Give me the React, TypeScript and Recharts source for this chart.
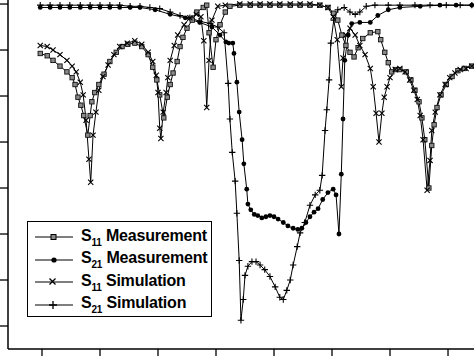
import React from 'react';
import { LineChart, Line, XAxis, YAxis, Legend } from 'recharts';

// frequency ticks (GHz) and dB ticks
const freqTicks = [1, 2, 3, 4, 5, 6, 7, 8];
const dbTicks = [-30, -28, -26, -24, -22, -20, -18, -16, -14, -12, -10, -8, -6, -4, -2, 0];

const s11MeasFreq = [0.97, 1.09, 1.19, 1.31, 1.43, 1.52, 1.57, 1.62, 1.67, 1.72, 1.79, 1.83, 1.86, 1.91, 1.98, 2.07, 2.17, 2.28, 2.38, 2.48, 2.6, 2.72, 2.83, 2.91, 2.98, 3.03, 3.1, 3.16, 3.21, 3.26, 3.33, 3.38, 3.43, 3.5, 3.59, 3.67, 3.78, 3.84, 3.88, 3.95, 4.0, 4.07, 4.16, 4.24, 4.41, 4.59, 4.76, 4.93, 5.1, 5.28, 5.45, 5.62, 5.79, 5.93, 6.03, 6.1, 6.17, 6.24, 6.31, 6.38, 6.45, 6.53, 6.66, 6.79, 6.84, 6.91, 6.97, 7.03, 7.1, 7.17, 7.28, 7.36, 7.43, 7.5, 7.55, 7.6, 7.67, 7.72, 7.76, 7.81, 7.88, 7.97, 8.07, 8.17, 8.28, 8.41];
const s11MeasDb = [-4.3, -4.5, -4.9, -5.4, -5.9, -6.4, -7.0, -8.1, -8.8, -9.7, -11.4, -9.7, -8.5, -7.7, -7.0, -6.1, -5.0, -4.2, -3.7, -3.5, -3.4, -3.7, -4.4, -5.5, -6.6, -7.9, -9.9, -8.1, -7.0, -6.0, -5.0, -3.7, -2.9, -2.1, -1.4, -0.7, -0.3, -0.1, -2.5, -5.5, -3.1, -1.8, -0.7, -0.2, -0.1, -0.1, -0.1, -0.1, -0.1, -0.1, -0.1, -0.1, -0.1, -0.3, -0.8, -1.4, -2.7, -3.6, -4.2, -4.6, -3.8, -3.0, -2.5, -2.4, -3.1, -4.2, -5.1, -5.9, -5.7, -5.7, -5.9, -6.6, -7.5, -8.5, -9.9, -11.8, -16.0, -12.3, -10.5, -9.0, -7.9, -7.0, -6.3, -5.8, -5.6, -5.4];

const s21MeasFreq = [0.97, 1.14, 1.31, 1.48, 1.66, 1.83, 2.0, 2.17, 2.34, 2.52, 2.69, 2.95, 3.21, 3.47, 3.72, 3.93, 4.07, 4.17, 4.22, 4.29, 4.31, 4.36, 4.4, 4.45, 4.48, 4.53, 4.55, 4.6, 4.66, 4.72, 4.79, 4.86, 4.93, 5.0, 5.07, 5.16, 5.24, 5.33, 5.41, 5.48, 5.55, 5.62, 5.69, 5.76, 5.84, 5.93, 6.02, 6.07, 6.12, 6.16, 6.19, 6.22, 6.28, 6.34, 6.48, 6.66, 6.79, 6.97, 7.17, 7.52, 7.86, 8.14, 8.41];
const s21MeasDb = [-0.3, -0.3, -0.3, -0.3, -0.3, -0.3, -0.3, -0.3, -0.3, -0.3, -0.3, -0.5, -0.9, -1.2, -1.6, -2.0, -2.7, -3.3, -3.4, -3.4, -4.3, -6.8, -9.4, -11.8, -13.9, -16.1, -17.4, -17.9, -18.3, -18.4, -18.6, -18.5, -18.4, -18.5, -18.7, -19.0, -19.3, -19.5, -19.6, -19.5, -19.0, -18.5, -18.1, -17.8, -17.0, -16.4, -16.1, -16.6, -20.0, -14.8, -10.0, -4.9, -2.7, -1.7, -1.6, -1.6, -1.0, -0.5, -0.3, -0.2, -0.1, -0.1, -0.1];

const s11SimFreq = [0.97, 1.09, 1.19, 1.31, 1.43, 1.52, 1.59, 1.66, 1.71, 1.76, 1.81, 1.84, 1.88, 1.93, 1.98, 2.05, 2.14, 2.24, 2.34, 2.47, 2.6, 2.72, 2.83, 2.91, 2.97, 3.0, 3.03, 3.05, 3.09, 3.14, 3.17, 3.21, 3.28, 3.34, 3.45, 3.55, 3.66, 3.74, 3.79, 3.84, 3.88, 3.93, 4.03, 4.16, 4.41, 4.59, 4.76, 4.93, 5.1, 5.28, 5.45, 5.62, 5.79, 5.93, 6.02, 6.09, 6.16, 6.19, 6.24, 6.31, 6.4, 6.48, 6.57, 6.66, 6.71, 6.76, 6.81, 6.86, 6.9, 6.95, 7.0, 7.09, 7.17, 7.26, 7.34, 7.41, 7.47, 7.52, 7.57, 7.64, 7.69, 7.72, 7.78, 7.86, 7.95, 8.03, 8.12, 8.21, 8.31, 8.41];
const s11SimDb = [-3.6, -3.7, -4.0, -4.4, -4.9, -5.4, -5.9, -6.8, -7.9, -10.1, -13.5, -15.5, -11.4, -9.4, -7.5, -6.3, -5.3, -4.4, -3.7, -3.4, -3.2, -3.5, -4.2, -5.0, -6.2, -7.7, -10.8, -11.7, -9.4, -7.7, -6.4, -4.9, -3.6, -2.7, -1.8, -1.2, -0.9, -1.1, -3.2, -9.0, -4.9, -1.4, -0.2, -0.1, 0, 0, 0, 0, 0, 0, 0, 0, -0.1, -0.3, -1.1, -3.1, -7.2, -4.7, -2.7, -2.1, -2.7, -3.6, -4.4, -5.6, -7.2, -9.5, -12.0, -9.5, -8.1, -7.2, -6.4, -5.7, -5.6, -5.9, -6.6, -7.5, -8.3, -9.7, -11.8, -16.2, -13.6, -11.0, -9.4, -7.9, -7.0, -6.4, -6.0, -5.7, -5.6, -5.4];

const s21SimFreq = [0.97, 1.14, 1.31, 1.48, 1.66, 1.83, 2.0, 2.17, 2.34, 2.52, 2.69, 2.86, 3.03, 3.21, 3.38, 3.55, 3.72, 3.9, 4.03, 4.14, 4.21, 4.24, 4.28, 4.33, 4.36, 4.4, 4.43, 4.47, 4.5, 4.55, 4.62, 4.69, 4.76, 4.84, 4.93, 5.02, 5.1, 5.16, 5.22, 5.28, 5.33, 5.4, 5.45, 5.53, 5.62, 5.71, 5.79, 5.83, 5.88, 5.91, 5.95, 5.98, 6.03, 6.1, 6.21, 6.31, 6.4, 6.48, 6.59, 6.74, 6.97, 7.17, 7.43, 7.69, 7.97, 8.21, 8.41];
const s21SimDb = [-0.1, -0.1, -0.1, -0.1, -0.1, -0.1, -0.1, -0.1, -0.1, -0.2, -0.2, -0.3, -0.4, -0.7, -1.0, -1.2, -1.5, -1.7, -2.0, -2.5, -6.9, -10.0, -12.9, -15.4, -18.2, -22.3, -27.5, -25.7, -23.6, -22.8, -22.4, -22.4, -22.7, -23.1, -23.7, -24.6, -25.5, -25.7, -24.9, -24.0, -22.7, -21.1, -19.9, -19.0, -17.5, -16.6, -16.2, -14.9, -11.0, -9.2, -6.6, -3.4, -1.4, -0.5, -0.3, -0.7, -0.9, -0.7, -0.2, -0.1, -0.1, -0.1, -0.1, -0.1, -0.1, -0.1, -0.1];

const zip = (f: number[], d: number[]) => f.map((v, i) => ({ f: v, db: d[i] }));

const Square = (p: any) => (
  <rect key={p.index} x={p.cx - 2.2} y={p.cy - 2.2} width={4.4} height={4.4} fill="#8a8a8a" stroke="#111" strokeWidth={0.9} />
);
const Dot = (p: any) => <circle key={p.index} cx={p.cx} cy={p.cy} r={2.4} fill="#000" />;
const Cross = (p: any) => (
  <path key={p.index} d={`M${p.cx - 2.6},${p.cy - 2.6}L${p.cx + 2.6},${p.cy + 2.6}M${p.cx - 2.6},${p.cy + 2.6}L${p.cx + 2.6},${p.cy - 2.6}`} stroke="#000" strokeWidth={1.1} />
);
const Plus = (p: any) => (
  <path key={p.index} d={`M${p.cx - 3.2},${p.cy}L${p.cx + 3.2},${p.cy}M${p.cx},${p.cy - 3.2}L${p.cx},${p.cy + 3.2}`} stroke="#000" strokeWidth={1.1} />
);

// tick labels are cut off in the original, only the tick marks remain
const NoLabel = () => <g />;

const legendRows = [
  { sub: '11', label: 'Measurement', mark: 'square' },
  { sub: '21', label: 'Measurement', mark: 'dot' },
  { sub: '11', label: 'Simulation', mark: 'cross' },
  { sub: '21', label: 'Simulation', mark: 'plus' },
];

function LegendBox() {
  return (
    <div style={{ width: 185, height: 96, border: '1.5px solid #000', boxSizing: 'border-box', background: '#fff', padding: '4px 0 0 7px', fontFamily: '"Liberation Sans", Arial, sans-serif', fontWeight: 700, fontSize: 16, color: '#000' }}>
      {legendRows.map((r, i) => (
        <div key={i} style={{ display: 'flex', alignItems: 'center', height: 22.5 }}>
          <svg width={40} height={12} style={{ marginRight: 6 }}>
            <line x1={0} y1={6} x2={38} y2={6} stroke="#000" strokeWidth={1.2} />
            {r.mark === 'square' && <rect x={16} y={3.5} width={5} height={5} fill="#888" stroke="#000" strokeWidth={1} />}
            {r.mark === 'dot' && <circle cx={19} cy={6} r={2.6} fill="#000" />}
            {r.mark === 'cross' && <path d="M14.5,2.5L20.5,8.5M14.5,8.5L20.5,2.5" stroke="#000" strokeWidth={1.3} fill="#fff" />}
            {r.mark === 'plus' && <path d="M14,6L22,6M18,2L18,10" stroke="#000" strokeWidth={1.3} />}
          </svg>
          <span style={{ letterSpacing: -0.2 }}>
            S<sub style={{ fontSize: 10, verticalAlign: -5 }}>{r.sub}</sub> {r.label}
          </span>
        </div>
      ))}
    </div>
  );
}

export default function App() {
  return (
    <div style={{ position: 'absolute', left: 0, top: 0, background: '#fff' }}>
      <LineChart width={474} height={357} margin={{ top: 0, right: 0, bottom: 0, left: 0 }}>
        <XAxis type="number" dataKey="f" domain={[0.414, 8.448]} ticks={freqTicks} allowDataOverflow tick={NoLabel} height={8} tickSize={7} axisLine={{ stroke: '#000', strokeWidth: 1.5 }} tickLine={{ stroke: '#000', strokeWidth: 1.3 }} />
        <YAxis type="number" domain={[-30, 0.35]} ticks={dbTicks} allowDataOverflow tick={NoLabel} width={8} tickSize={8} axisLine={{ stroke: '#000', strokeWidth: 1.5 }} tickLine={{ stroke: '#000', strokeWidth: 1.3 }} />
        <Line data={zip(s21MeasFreq, s21MeasDb)} dataKey="db" type="linear" stroke="#000" strokeWidth={1} dot={Dot} isAnimationActive={false} />
        <Line data={zip(s21SimFreq, s21SimDb)} dataKey="db" type="linear" stroke="#000" strokeWidth={1} dot={Plus} isAnimationActive={false} />
        <Line data={zip(s11MeasFreq, s11MeasDb)} dataKey="db" type="linear" stroke="#000" strokeWidth={1} dot={Square} isAnimationActive={false} />
        <Line data={zip(s11SimFreq, s11SimDb)} dataKey="db" type="linear" stroke="#000" strokeWidth={1} dot={Cross} isAnimationActive={false} />
        <Legend layout="vertical" align="center" verticalAlign="middle" content={() => <LegendBox />} wrapperStyle={{ left: 27, top: 221, width: 185, height: 96 }} />
      </LineChart>
    </div>
  );
}
